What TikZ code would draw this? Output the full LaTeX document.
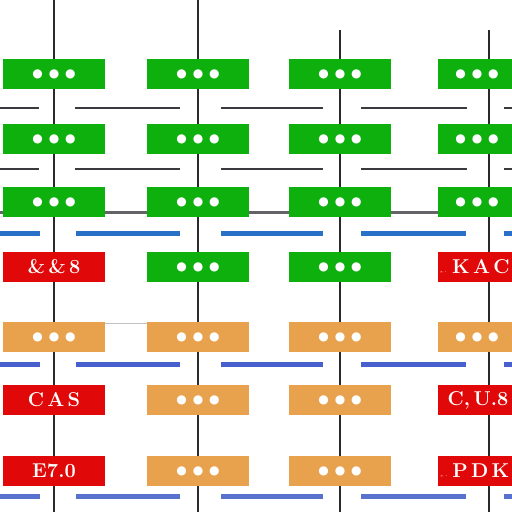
\documentclass[tikz,border=0pt]{standalone}
\usepackage{fontspec}
\newfontfamily\dejavu{DejaVu Sans}
\definecolor{gbox}{RGB}{14,176,14}
\definecolor{rbox}{RGB}{224,8,8}
\definecolor{obox}{RGB}{232,162,78}
\definecolor{vline}{RGB}{42,42,46}
\definecolor{hline}{RGB}{58,58,62}
\definecolor{hlight}{RGB}{100,100,104}
\definecolor{blueA}{RGB}{40,112,200}
\definecolor{blueB}{RGB}{72,96,205}
\definecolor{blueC}{RGB}{88,112,206}
\usetikzlibrary{backgrounds}
\newcommand{\blobs}{{\dejavu\fontsize{12}{12}\selectfont ●\hspace{6pt}●\hspace{6pt}●}}
\tikzset{
  cell/.style={minimum width=102pt, minimum height=30pt, inner sep=0pt, text=white, font=\bfseries\fontsize{20}{20}\selectfont},
  edgecell/.style={minimum width=74pt},
  gcell/.style={cell, fill=gbox},
  rcell/.style={cell, fill=rbox},
  ocell/.style={cell, fill=obox},
  vconn/.style={draw=vline, line width=2pt},
  hseg/.style={draw=hline, line width=2.4pt},
  hsegl/.style={draw=hlight, line width=2.4pt},
  bseg/.style={line width=5pt},
}
\begin{document}
\begin{tikzpicture}[x=1pt,y=-1pt]
\useasboundingbox (0,0) rectangle (512,512);
\clip (0,0) rectangle (512,512);
% column top / bottom coordinates
\coordinate (v1t) at (54,0);   \coordinate (v1b) at (54,512);
\coordinate (v2t) at (198,0);  \coordinate (v2b) at (198,512);
\coordinate (v3t) at (340,30); \coordinate (v3b) at (340,512);
\coordinate (v4t) at (489,30); \coordinate (v4b) at (489,512);
% row 1
\node[gcell] (a1) at (54,74) {\blobs};
\node[gcell] (b1) at (198,74) {\blobs};
\node[gcell] (c1) at (340,74) {\blobs};
\node[gcell,edgecell] (d1) at (475,74) {\hspace{4pt}\blobs};
% row 2
\node[gcell] (a2) at (54,139) {\blobs};
\node[gcell] (b2) at (198,139) {\blobs};
\node[gcell] (c2) at (340,139) {\blobs};
\node[gcell,edgecell] (d2) at (475,139) {\hspace{4pt}\blobs};
% row 3
\node[gcell] (a3) at (54,202) {\blobs};
\node[gcell] (b3) at (198,202) {\blobs};
\node[gcell] (c3) at (340,202) {\blobs};
\node[gcell,edgecell] (d3) at (475,202) {\hspace{4pt}\blobs};
% row 4
\node[rcell] (a4) at (54,267) {\&\,\&\,8};
\node[gcell] (b4) at (198,267) {\blobs};
\node[gcell] (c4) at (340,267) {\blobs};
\node[rcell,edgecell] (d4) at (475,267) {{\tiny -·}\,K\,A\,C};
% row 5
\node[ocell] (a5) at (54,337) {\blobs};
\node[ocell] (b5) at (198,337) {\blobs};
\node[ocell] (c5) at (340,337) {\blobs};
\node[ocell,edgecell] (d5) at (475,337) {\hspace{4pt}\blobs};
% row 6
\node[rcell] (a6) at (54,400) {C\,A\,S};
\node[ocell] (b6) at (198,400) {\blobs};
\node[ocell] (c6) at (340,400) {\blobs};
\node[rcell,edgecell] (d6) at (475,400) {\hspace{6pt}C,\,U.8};
% row 7
\node[rcell] (a7) at (54,471) {E7.0};
\node[ocell] (b7) at (198,471) {\blobs};
\node[ocell] (c7) at (340,471) {\blobs};
\node[rcell,edgecell] (d7) at (475,471) {{\tiny -·}\,P\,D\,K};
\begin{scope}[on background layer]
  \draw[vconn] (v1t) -- (a1) -- (a2) -- (a3) -- (a4) -- (a5) -- (a6) -- (a7) -- (v1b);
  \draw[vconn] (v2t) -- (b1) -- (b2) -- (b3) -- (b4) -- (b5) -- (b6) -- (b7) -- (v2b);
  \draw[vconn] (v3t) -- (c1) -- (c2) -- (c3) -- (c4) -- (c5) -- (c6) -- (c7) -- (v3b);
  \draw[vconn] (v4t) -- (v4b);
  % row 3 link line
  \draw[hsegl, line width=3pt] (0,212) -- (512,212);
  % faint line above row 5
  \draw[hlight!40, line width=0.8pt] (105,323) -- (147,323);
  % dark grey segments
  \foreach \y/\st in {108/hseg,169/hseg}{
    \draw[\st] (0,\y) -- (39,\y);
    \draw[\st] (75,\y) -- (180,\y);
    \draw[\st] (221,\y) -- (323,\y);
    \draw[\st] (361,\y) -- (467,\y);
    \draw[\st] (504,\y) -- (512,\y);
  }
  % blue segments
  \foreach \y/\c in {233/blueA,364/blueB,496/blueC}{
    \draw[bseg,draw=\c] (0,\y) -- (40,\y);
    \draw[bseg,draw=\c] (76,\y) -- (180,\y);
    \draw[bseg,draw=\c] (221,\y) -- (323,\y);
    \draw[bseg,draw=\c] (361,\y) -- (466,\y);
    \draw[bseg,draw=\c] (504,\y) -- (512,\y);
  }
\end{scope}
\end{tikzpicture}
\end{document}
